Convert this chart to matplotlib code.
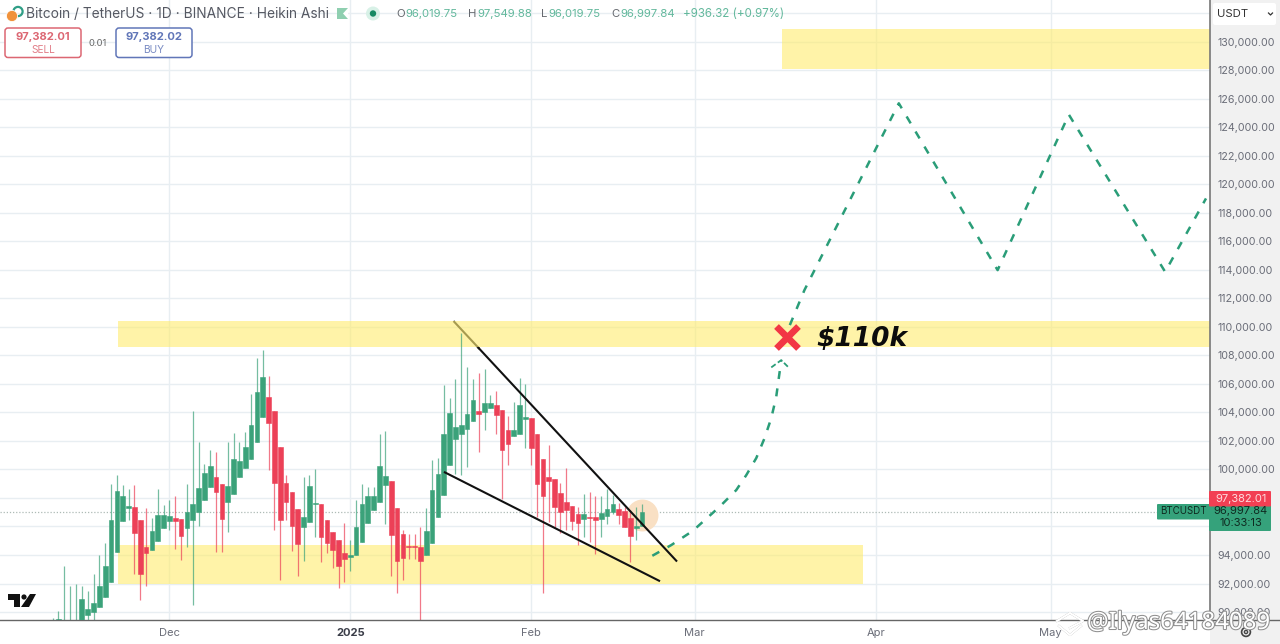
import numpy as np
import matplotlib
matplotlib.use("Agg")
import matplotlib.pyplot as plt
import matplotlib.patheffects as pe
from matplotlib.patches import FancyBboxPatch, Rectangle, Circle, Polygon

plt.rcParams["font.family"] = ["Inter", "DejaVu Sans"]

# daily heikin ashi candles, first one is 20 days before Dec 1
first_day = -20
opens = [
    88900, 89000, 89000, 89000, 89000, 89450, 89800, 89990, 90320, 91065,
    92115, 94240, 96390, 97280, 97395, 96460, 94590, 94360, 94990, 95875,
    96390, 96600, 96530, 95920, 96440, 97020, 97840, 98750, 99500, 98985,
    97745, 98260, 99500, 100080, 100760, 101905, 103655, 105060, 104125, 101600,
    99030, 98420, 97230, 95990, 96320, 97560, 97605, 96460, 95645, 95035,
    94125, 93870, 93985, 94920, 96250, 97185, 97700, 98940, 99215, 97325,
    95455, 94660, 94615, 94590, 94030, 94870, 96670, 98190, 100340, 102140,
    102510, 102840, 103375, 104120, 104005, 104310, 104545, 104145, 102745, 102325,
    102510, 103540, 103610, 102510, 100760, 99450, 99310, 98375, 97700, 97440,
    96860, 96555, 96670, 96695, 96555, 96765, 97020, 97230, 97070, 96600,
    95925, 96020,
]
closes = [
    89200, 89500, 89300, 89300, 89300, 90900, 90200, 90620, 91790, 93260,
    96440, 98470, 98165, 97465, 95570, 92675, 94170, 95710, 96790, 96835,
    96765, 96415, 95365, 97020, 97560, 98680, 99730, 100245, 98445, 96555,
    98865, 100735, 100620, 101555, 103120, 105410, 106460, 103235, 99030, 96460,
    97745, 96040, 94755, 96650, 98865, 97630, 95245, 94870, 94360, 93240,
    93705, 94030, 95970, 97580, 98120, 98120, 100225, 99545, 95435, 93565,
    93795, 94570, 94545, 93565, 95690, 98585, 99660, 102465, 103960, 102980,
    103140, 103910, 104845, 103890, 104660, 104660, 103820, 101390, 101810, 102745,
    104545, 103655, 101505, 98960, 98165, 99170, 97370, 97020, 97185, 96390,
    96250, 96860, 96600, 96440, 96950, 97255, 97560, 96835, 95970, 95315,
    96015, 96998,
]
highs = [
    89570, 90040, 93260, 91835, 91950, 91835, 91440, 92675, 94010, 94870,
    98985, 99615, 98915, 98630, 98915, 96460, 97280, 96625, 98630, 97510,
    97860, 98165, 96530, 98985, 104075, 101950, 100385, 101365, 101250, 98985,
    101950, 102580, 101950, 102650, 105270, 107790, 108375, 106550, 104125, 101600,
    99615, 98420, 97230, 99500, 99615, 100010, 97605, 96460, 95645, 95035,
    96275, 95085, 97840, 98960, 98775, 98775, 102465, 102700, 99215, 97325,
    95785, 95455, 95455, 95970, 97325, 100640, 100805, 105900, 105010, 106365,
    109565, 107185, 106365, 106785, 107065, 105195, 105475, 104145, 103750, 104730,
    106410, 105970, 103610, 102510, 100760, 101695, 99310, 99055, 100130, 97440,
    97370, 98260, 98425, 98120, 98120, 98660, 98190, 97650, 97370, 97140,
    97370, 97550,
]
lows = [
    88500, 88700, 88700, 88700, 88700, 89000, 89000, 89000, 90320, 91065,
    92115, 94240, 96390, 96460, 92675, 90855, 91860, 94360, 94990, 95875,
    95760, 94405, 93660, 94590, 90505, 96040, 97840, 98750, 94195, 94240,
    95645, 98260, 99500, 100080, 100760, 101905, 103655, 99965, 95760, 92255,
    96460, 94310, 92535, 93610, 96320, 95245, 93540, 94125, 93075, 91670,
    92140, 92885, 93985, 94920, 96250, 97185, 97700, 96205, 92535, 91300,
    92280, 93750, 93750, 89430, 94030, 94870, 96670, 98190, 100340, 99710,
    99590, 100175, 103375, 101225, 102745, 104310, 102510, 97955, 100290, 102325,
    102510, 101530, 100340, 96670, 91300, 96320, 95970, 95550, 95735, 95735,
    94730, 95270, 94920, 94100, 95270, 96205, 96905, 96205, 95970, 93515,
    95035, 96020,
]

last_price = 96997.84
price_ticks = list(range(90000, 130001, 2000))
hidden_ticks = [96000, 98000]  # sit behind the price tags
month_days = [0, 31, 62, 90, 121, 151]
month_labels = ["Dec", "2025", "Feb", "Mar", "Apr", "May"]

# drawings on the chart: (day start, day end, price low, price high)
zones = [
    (104.9, 178.2, 128090, 130900),
    (-8.8, 178.2, 108590, 110420),
    (-8.8, 118.8, 92000, 94710),
]
upper_days = [48.8, 53.0, 86.85]
upper_prices = [110356, 108510, 93595]
lower_days = [47.2, 83.9]
lower_prices = [99795, 92193]
curve_days = [82.74, 85.99, 89.69, 94.26, 97.12, 98.84, 100.55, 101.97, 103.12, 103.97, 104.83]
curve_prices = [93946, 94696, 95699, 97382, 98553, 99605, 100798, 102200, 103603, 105097, 107670]
head_days = [103.12, 104.83, 106.25]
head_prices = [107158, 107670, 107088]
swing_days = [106.3, 108.8, 124.97, 141.9, 154.1, 170.6, 177.6]
swing_prices = [110125, 112580, 125683, 113982, 124891, 113863, 119010]

GREEN = "#3ba27a"
RED = "#ec4057"
TEAL = "#2a9d78"
GRID = "#e8eef2"

fig = plt.figure(figsize=(12.8, 6.44), dpi=100, facecolor="white")
ax = fig.add_axes([0, 24 / 644, 1209.5 / 1280, 620 / 644])
ax.set_xlim(-29.02, 178.2)
ax.set_ylim(89440, 132930)

ax.set_yticks(price_ticks)
ax.set_yticklabels(["" if p in hidden_ticks else f"{p:,.2f}" for p in price_ticks])
ax.yaxis.tick_right()
ax.set_xticks(month_days)
ax.set_xticklabels(month_labels)
ax.tick_params(axis="y", length=0, pad=6, labelsize=7.7, labelcolor="#6a6d78")
ax.tick_params(axis="x", length=0, pad=5.5, labelsize=8, labelcolor="#6a6d78")
ax.get_xticklabels()[1].set_fontweight("bold")
ax.get_xticklabels()[1].set_color("#3a3d48")
ax.grid(True, color=GRID, lw=1)
ax.axhline(132000, color=GRID, lw=1, zorder=0.5)
ax.set_axisbelow(True)
for side in ["top", "left"]:
    ax.spines[side].set_visible(False)
ax.spines["right"].set_color("#777777")
ax.spines["bottom"].set_color("#666666")
ax.spines["right"].set_linewidth(1.2)
ax.spines["bottom"].set_linewidth(1.0)

ax.axhline(last_price, color="#aebbb6", lw=0.9, ls=(0, (1, 1.5)), zorder=0.8)

# top of the upper wedge line goes under the band, the band tints it
ax.plot(upper_days[:2], upper_prices[:2], color="#222222", lw=1.5, zorder=1)
for x0, x1, p0, p1 in zones:
    ax.add_patch(Rectangle((x0, p0), x1 - x0, p1 - p0, color="#ffec6e", alpha=0.6, lw=0, zorder=1.2))

ax.plot([80.9], [96800], "o", ms=23, color="#f9e0c4", mew=0, zorder=1.5)

days = np.arange(first_day, first_day + len(opens))
colors = [GREEN if c >= o else RED for o, c in zip(opens, closes)]
ax.vlines(days, lows, highs, colors=colors, lw=0.9, alpha=0.7, zorder=2)
ax.bar(days, np.abs(np.array(closes) - np.array(opens)), bottom=np.minimum(opens, closes),
       width=0.8, color=colors, edgecolor=colors, lw=0.4, zorder=3)

ax.plot(upper_days[1:], upper_prices[1:], color="#111111", lw=1.5, zorder=4)
ax.plot(lower_days, lower_prices, color="#111111", lw=1.5, zorder=4)

dash = (0, (3.2, 3.8))
ax.plot(curve_days, curve_prices, color=TEAL, lw=1.8, ls=dash, zorder=4)
ax.plot(head_days, head_prices, color=TEAL, lw=1.3, ls=(0, (3, 1.5)), zorder=4)
ax.plot(swing_days, swing_prices, color=TEAL, lw=1.8, ls=dash, zorder=4)

ax.plot([105.9], [109284], "x", ms=15.5, mew=4.8, color="#f23645", zorder=5)
ax.text(110.75, 109140, "$110k", fontsize=19, fontweight="bold", fontstyle="italic",
        family="DejaVu Sans", color="#0c0c0c", va="center", ha="left", zorder=5)

# everything around the chart, in screen pixels
ui = fig.add_axes([0, 0, 1, 1], zorder=-1)
ui.set_xlim(0, 1280)
ui.set_ylim(644, 0)
ui.axis("off")
ui.add_patch(Rectangle((1209.5, 0), 70.5, 644, color="#f1f1f1", lw=0))
ax.patch.set_alpha(0)

top = fig.add_axes([0, 0, 1, 1], zorder=5)
top.set_xlim(0, 1280)
top.set_ylim(644, 0)
top.axis("off")
top.patch.set_alpha(0)

top.plot([1209.5, 1280], [620, 620], color="#666666", lw=1.0)

# header
top.add_patch(Circle((18, 11.5), 4.6, fc="none", ec="#2f9e86", lw=1.6))
top.add_patch(Circle((12, 16), 5.6, fc="#f0923b", ec="white", lw=0.6))
top.text(26, 14, "Bitcoin / TetherUS · 1D · BINANCE · Heikin Ashi", fontsize=9.9, color="#555862", va="center")
top.add_patch(Rectangle((337, 8), 11, 11, color="#8fcfb0", lw=0))
top.add_patch(Polygon([[343, 13.5], [348, 8], [348, 19]], color="white", lw=0))
top.add_patch(Circle((373, 13.5), 7, color="#d8f1e7", lw=0))
top.add_patch(Circle((373, 13.5), 3.2, color="#178a63", lw=0))

ohlc = [("O", 396, "96,019.75", 405), ("H", 468, "97,549.88", 477),
        ("L", 541, "96,019.75", 548), ("C", 611, "96,997.84", 620)]
for letter, lx, value, vx in ohlc:
    top.text(lx, 14, letter, fontsize=8.2, color="#66696f", va="center")
    top.text(vx, 14, value, fontsize=8.2, color="#62b89c", va="center")
top.text(683, 14, "+936.32 (+0.97%)", fontsize=8.3, color="#62b89c", va="center")

for x0, col, price, side in [(5, "#dc6773", "97,382.01", "SELL"), (116, "#6176b8", "97,382.02", "BUY")]:
    top.add_patch(FancyBboxPatch((x0 + 3, 31), 70, 23.5, boxstyle="round,pad=3", fc="white", ec=col, lw=1.1))
    top.text(x0 + 38, 37, price, fontsize=8, fontweight="bold", color=col, ha="center", va="center")
    top.text(x0 + 38, 50, side, fontsize=7.3, color=col, ha="center", va="center", alpha=0.85)
top.text(98, 43, "0.01", fontsize=6.8, color="#666666", ha="center", va="center")

# price scale
top.add_patch(FancyBboxPatch((1215, 5), 59, 18, boxstyle="round,pad=2", fc="white", ec="none"))
top.text(1217, 14, "USDT", fontsize=8.2, color="#333333", va="center")
top.plot([1268.5, 1270.5, 1272.5], [13, 15, 13], color="#333333", lw=0.9)
top.add_patch(FancyBboxPatch((1158, 505), 51, 13.5, boxstyle="round,pad=1", fc="#35a27b", ec="none"))
top.text(1183, 511.5, "BTCUSDT", fontsize=7, color="#0f2a20", ha="center", va="center")
top.add_patch(FancyBboxPatch((1210, 506), 60, 24, boxstyle="round,pad=1", fc="#35a27b", ec="none"))
top.add_patch(FancyBboxPatch((1210, 492), 60, 13.5, boxstyle="round,pad=1", fc="#f23f53", ec="none"))
top.text(1241, 498.5, "97,382.01", fontsize=8, color="#ffd9dd", ha="center", va="center")
top.text(1241, 511.5, "96,997.84", fontsize=8, color="#0f2a20", ha="center", va="center")
top.text(1241, 523, "10:33:13", fontsize=8, color="#0f2a20", ha="center", va="center")

# gear icon
top.add_patch(Circle((1246, 632), 4.4, fc="none", ec="#444444", lw=1.2))
top.add_patch(Circle((1246, 632), 1.6, fc="none", ec="#444444", lw=1))

# tradingview logo
logo = "#111111"
top.add_patch(Polygon([[8, 594], [20, 594], [20, 607], [14, 607], [14, 600], [8, 600]], color=logo, lw=0))
top.add_patch(Circle((24, 597), 2.6, color=logo, lw=0))
top.add_patch(Polygon([[30, 594], [36, 594], [29, 607], [21, 607]], color=logo, lw=0))

# watermark
stroke = [pe.withStroke(linewidth=1.5, foreground="#8f8f8f")]
for pts in ([[1057, 621], [1070, 613], [1083, 621], [1070, 628]], [[1059, 626], [1070, 635], [1081, 626]]):
    top.plot(*zip(*pts), color="white", lw=1.6, path_effects=stroke)
top.text(1087, 623, "@Ilyas64184089", fontsize=17.3, color="white", va="center", family="Noto Sans",
         path_effects=stroke)

fig.savefig("out.png", dpi=100)
